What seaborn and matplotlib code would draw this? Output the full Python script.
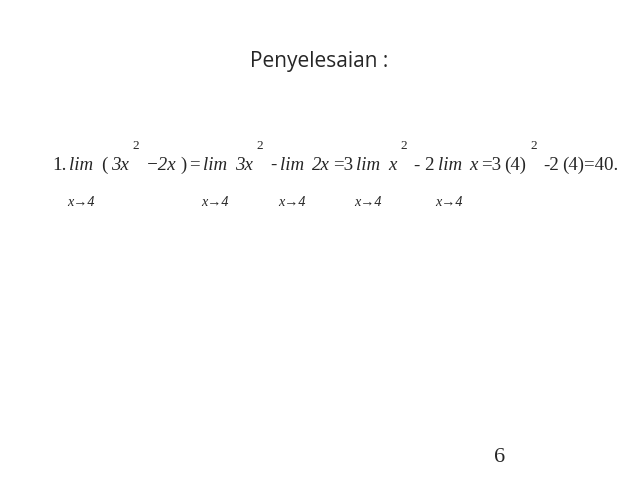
import matplotlib
matplotlib.use("Agg")
import matplotlib.pyplot as plt
import seaborn as sns

sns.set_style("white")

title = "Penyelesaian :"
page = "6"
# equation pieces: (text, kind) kind: n=normal, i=italic, s=superscript, L=lim with subscript
pieces = [("1.", "n"), ("lim", "L"), ("(", "n"), ("3x", "i"), ("2", "s"), ("−2x", "i"),
          (")", "n"), ("=", "n"), ("lim", "L"), ("3x", "i"), ("2", "s"), ("-", "n"),
          ("lim", "L"), ("2x", "i"), ("=3", "n"), ("lim", "L"), ("x", "i"), ("2", "s"),
          ("- 2", "n"), ("lim", "L"), ("x", "i"), ("=3", "n"), ("(4)", "n"), ("2", "s"),
          ("-2", "n"), ("(4)=40.", "n")]
sub_label = "x→4"

W, H = 638, 478
fig = plt.figure(figsize=(W/100, H/100), dpi=100)
fig.patch.set_facecolor("white")
def px(x, y): return x/W, 1 - y/H

fig.text(*px(319, 62), title, ha="center", va="center", fontsize=15, family="Open Sans")
fig.text(*px(500, 458), page, ha="center", va="center", fontsize=16, family="Liberation Serif")

renderer = fig.canvas.get_renderer()
fam = "Liberation Serif"

def layout(fs, draw):
    x = 52
    made = []
    for t, k in pieces:
        if k == "s":
            txt = fig.text(*px(x + 1, 146), t, ha="left", va="center", fontsize=fs*0.7, family=fam)
        else:
            txt = fig.text(*px(x, 165), t, ha="left", va="center", fontsize=fs, family=fam,
                           style="italic" if k in "iL" else "normal")
        made.append(txt)
        w = txt.get_window_extent(renderer).width
        if k == "L":
            made.append(fig.text(*px(x - 2, 203), sub_label, ha="left", va="center",
                                 fontsize=fs*0.75, family=fam, style="italic"))
        x += w + (8 if k in "Ls" else 3)
    if not draw:
        for m in made:
            m.remove()
    return x - 52

fs = 20
total = layout(fs, False)
fs = fs * 530 / total
layout(fs, True)
fig.savefig("out.png", dpi=100, facecolor="white")
